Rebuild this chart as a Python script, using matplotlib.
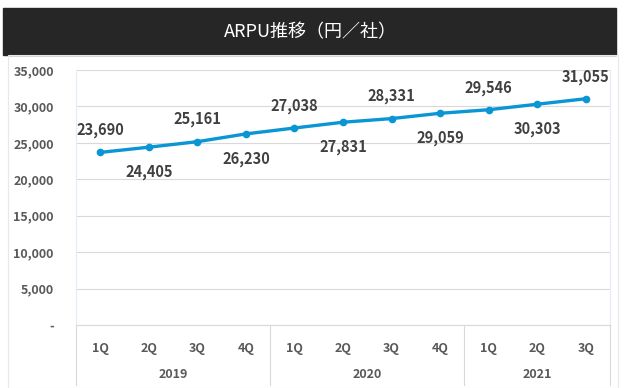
import matplotlib.pyplot as plt
import matplotlib.transforms as mtransforms
from matplotlib.patches import Rectangle

plt.rcParams['font.family'] = ['Noto Sans CJK JP', 'DejaVu Sans']

quarters = ['1Q', '2Q', '3Q', '4Q', '1Q', '2Q', '3Q', '4Q', '1Q', '2Q', '3Q']
years = ['2019', '2020', '2021']
year_counts = [4, 4, 3]
arpu = [23690, 24405, 25161, 26230, 27038, 27831, 28331, 29059, 29546, 30303, 31055]
label_above = [True, False, True, False, True, False, True, False, True, False, True]

fig = plt.figure(figsize=(6.3, 3.88), dpi=100)
W, H = 630, 388

# title band
fig.patches.append(Rectangle((3 / W, 1 - 55 / H), 613 / W, 47 / H,
                             transform=fig.transFigure, color='#262626', zorder=0))
fig.text(310 / W, 1 - 32 / H, 'ARPU推移（円／社）', color='white', fontsize=13,
         ha='center', va='center')
# light frame around the chart body
fig.patches.append(Rectangle((8 / W, 0), 610 / W, 1 - 55 / H, transform=fig.transFigure,
                             fill=False, edgecolor='#e8e8e8', linewidth=0.8, zorder=0))

ax = fig.add_axes([76 / W, 1 - 325 / H, 534 / W, 255 / H])
x = list(range(len(arpu)))
ax.plot(x, arpu, color='#0a96d4', linewidth=2.4, marker='o', markersize=4.5, zorder=3)

for i, v in enumerate(arpu):
    off = 16 if label_above[i] else -18
    ax.annotate(f'{v:,}', (i, v), xytext=(0, off), textcoords='offset points',
                ha='center', va='center', fontsize=10.5, fontweight='bold', color='#404040')

ax.set_xlim(-0.5, len(arpu) - 0.5)
ax.set_ylim(0, 35000)
ax.set_yticks(range(0, 35001, 5000))
ax.set_yticklabels(['-'] + [f'{v:,}' for v in range(5000, 35001, 5000)])
ax.grid(axis='y', color='#d9d9d9', linewidth=0.8)
ax.set_axisbelow(True)
ax.set_xticks(x)
ax.set_xticklabels(quarters)
ax.tick_params(length=0, labelsize=9, labelcolor='#595959')
ax.tick_params(axis='y', pad=16)
ax.tick_params(axis='x', pad=12)
for t in ax.get_xticklabels() + ax.get_yticklabels():
    t.set_fontweight('bold')

for s in ['top', 'right']:
    ax.spines[s].set_visible(False)
ax.spines['bottom'].set_color('#d9d9d9')
ax.spines['left'].set_color('#e3ecf7')
ax.spines['right'].set_visible(True)
ax.spines['right'].set_color('#e3ecf7')

# year groups
trans = mtransforms.blended_transform_factory(ax.transData, ax.transAxes)
bottom = -60 / 255
pos = -0.5
ax.plot([pos, pos], [0, bottom], transform=trans, color='#d9d9d9', lw=0.8, clip_on=False)
for yr, n in zip(years, year_counts):
    ax.text(pos + n / 2, -50 / 255, yr, transform=trans, ha='center', va='center',
            fontsize=9, fontweight='bold', color='#595959')
    pos += n
    ax.plot([pos, pos], [0, bottom], transform=trans, color='#d9d9d9', lw=0.8, clip_on=False)

fig.savefig('out.png', dpi=100)
